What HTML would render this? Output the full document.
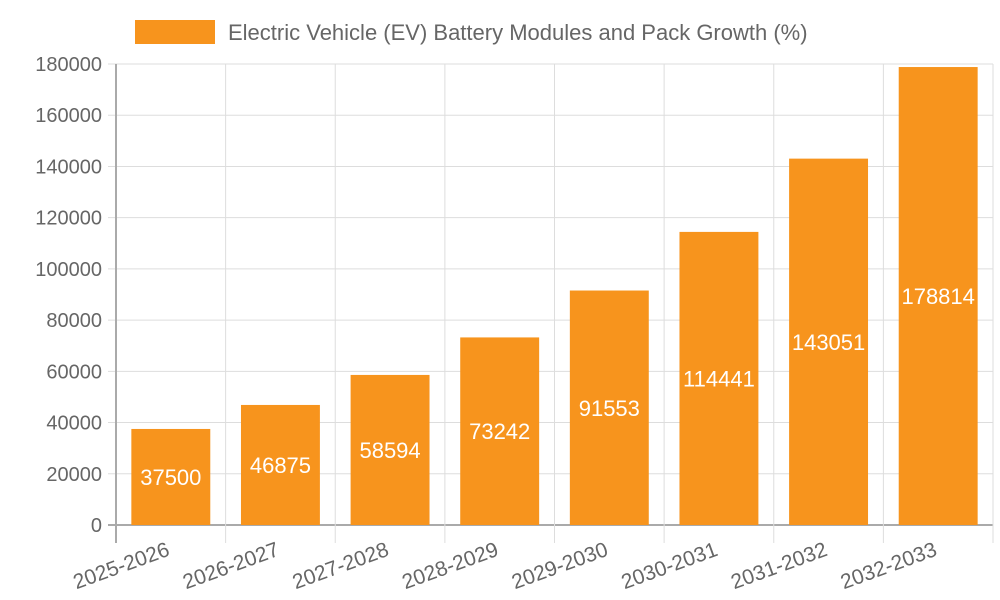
<!DOCTYPE html>
<html><head><meta charset="utf-8"><style>
html,body{margin:0;padding:0;background:#fff;}
svg{display:block;font-family:"Liberation Sans",sans-serif;}
</style></head><body>
<svg id="chart" width="1000" height="600">
<g id="legend">
<rect x="135" y="20" width="80" height="24" fill="#f7941d"/>
<text x="228" y="40" font-size="22" fill="#666">Electric Vehicle (EV) Battery Modules and Pack Growth (%)</text>
</g>
<g id="grid"></g><g id="bars"></g><g id="labels"></g>
</svg>
<script>
const categories=["2025-2026","2026-2027","2027-2028","2028-2029","2029-2030","2030-2031","2031-2032","2032-2033"];
const values=[37500,46875,58594,73242,91553,114441,143051,178814];
const yTicks=[0,20000,40000,60000,80000,100000,120000,140000,160000,180000];
const NS="http://www.w3.org/2000/svg";
const L=116,R=993,T=64,B=525,YMAX=180000;
const bw=(R-L)/categories.length;
const y=v=>B-(v/YMAX)*(B-T);
const x=i=>L+i*bw;
function mk(tag,attrs,parent,text){const e=document.createElementNS(NS,tag);for(const k in attrs)e.setAttribute(k,attrs[k]);if(text!==undefined)e.textContent=text;parent.appendChild(e);return e;}
const g=document.getElementById('grid'),gb=document.getElementById('bars'),gl=document.getElementById('labels');
yTicks.forEach(t=>{
 const ln=mk('line',{x1:L-8,x2:R,y1:y(t),y2:y(t),stroke:t===0?'#aaa':'#ddd','stroke-width':t===0?2:1},g);
 
 
 const tx=mk('text',{x:L-14,y:y(t)+7,'text-anchor':'end','font-size':20,fill:'#666'},g,String(t));
 
 
});
for(let i=0;i<=categories.length;i++){
 const ln=mk('line',{x1:x(i),x2:x(i),y1:T,y2:B+18,stroke:i===0?'#aaa':'#ddd','stroke-width':i===0?2:1},g);
 
 
}
categories.forEach((c,i)=>{
 const cx=x(i)+bw/2,w=bw*0.72,top=y(values[i]);
 const r=mk('rect',{x:cx-w/2,y:top,width:w,height:B-top,fill:'#f7941d'},gb);
 
 
 const vt=mk('text',{x:cx,y:(top+B)/2+8,'text-anchor':'middle','font-size':22,fill:'#fff'},gl,String(values[i]));
 
 
 const xt=mk('text',{x:cx,y:B+30,'text-anchor':'end','font-size':21,fill:'#666',transform:`rotate(-20 ${cx} ${B+30})`},gl,c);
 
 
});
</script>
</body></html>
